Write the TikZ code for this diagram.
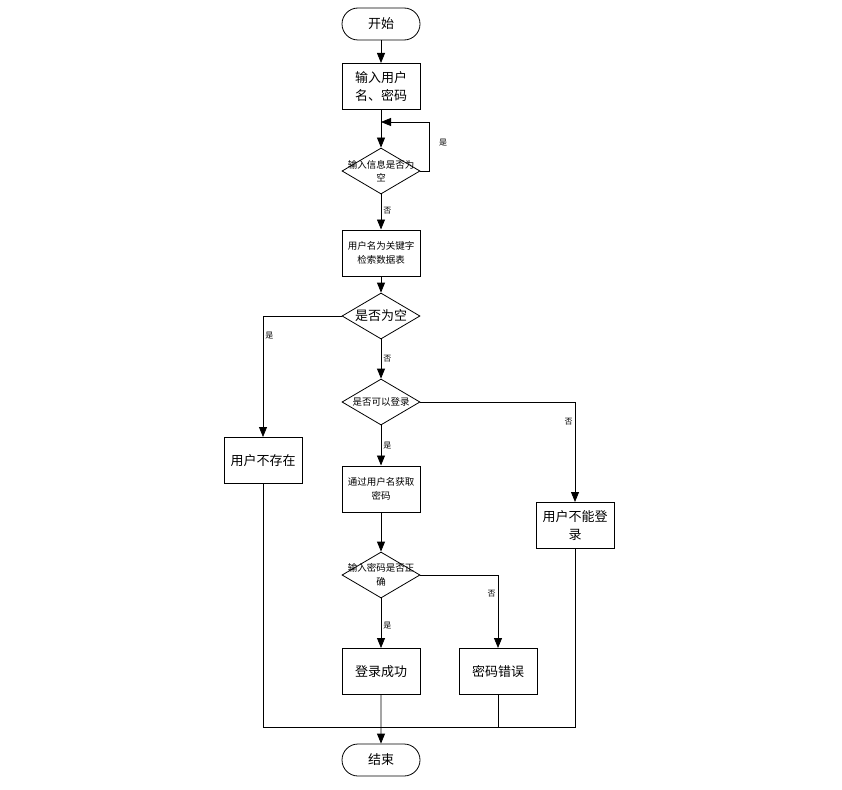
\documentclass[tikz,border=0pt]{standalone}
\usepackage{fontspec}
\setmainfont{Noto Sans CJK SC}
\usetikzlibrary{arrows.meta,shapes.geometric,shapes.misc}
\newcommand{\flowbig}{\fontsize{13}{18}\selectfont}
\newcommand{\flowsmall}{\fontsize{9.5}{13.5}\selectfont}
\newcommand{\flowlabel}{\fontsize{8}{10}\selectfont}

\begin{document}
\begin{tikzpicture}[x=1pt,y=-1pt]
    \tikzset{terminal/.style = {shape=rounded rectangle,draw,line width=0.8pt,minimum width=78pt,minimum height=32pt,inner sep=0pt,font=\flowbig}}
    \tikzset{process/.style = {shape=rectangle,draw,line width=1pt,minimum width=78pt,minimum height=46pt,inner sep=0pt,align=center}}
    \tikzset{decision/.style = {shape=diamond,draw,line width=0.8pt,minimum width=78pt,minimum height=46pt,inner sep=0pt}}
    \tikzset{edge/.style = {->,>={Triangle[length=10pt,width=8pt]},line width=0.8pt}}
    \tikzset{line/.style = {line width=0.8pt}}
    \tikzset{tag/.style = {font=\flowlabel,inner sep=2pt}}
    \useasboundingbox (0,0) rectangle (842,789);
    % vertices
    \node[terminal] (start) at (381,24) {开始};
    \node[process,font=\flowbig] (input) at (381,86.5) {输入用户\\名、密码};
    \node[decision,label={[align=center,font=\flowsmall]center:输入信息是否为\\空}] (empty) at (381,171) {};
    \node[process,font=\flowsmall] (query) at (381,253) {用户名为关键字\\检索数据表};
    \node[decision,label={[font=\flowbig]center:是否为空}] (found) at (381,316) {};
    \node[decision,label={[font=\flowsmall]center:是否可以登录}] (allowed) at (381,402) {};
    \node[process,font=\flowsmall] (fetch) at (381,489) {通过用户名获取\\密码};
    \node[decision,label={[align=center,font=\flowsmall]center:输入密码是否正\\确}] (check) at (381,575) {};
    \node[process,font=\flowbig] (success) at (381,671.5) {登录成功};
    \node[process,font=\flowbig] (wrong) at (498,671.5) {密码错误};
    \node[process,font=\flowbig] (nouser) at (263,460.5) {用户不存在};
    \node[process,font=\flowbig] (denied) at (575,525.5) {用户不能登\\录};
    \node[terminal] (stop) at (381,760) {结束};
    \coordinate (back) at (381,122);
    \coordinate (corner) at (429,122);
    \coordinate (merge) at (381,727);
    %edges
    \draw[edge] (start) -- (input);
    \draw[edge] (input) -- (empty);
    \draw[edge] (empty.east) -| (corner) -- (back);
    \node[tag] at (443,143) {是};
    \draw[edge] (empty) -- node[tag,right,pos=0.45] {否} (query);
    \draw[edge] (query) -- (found);
    \draw[edge] (found.west) -| node[tag,right,pos=0.58] {是} (nouser);
    \draw[edge] (found) -- node[tag,right] {否} (allowed);
    \draw[edge] (allowed.east) -| node[tag,left,pos=0.6] {否} (denied);
    \draw[edge] (allowed) -- node[tag,right] {是} (fetch);
    \draw[edge] (fetch) -- (check);
    \draw[edge] (check) -- node[tag,right,pos=0.55] {是} (success);
    \draw[edge] (check.east) -| node[tag,left,pos=0.63] {否} (wrong);
    \draw[line] (nouser) |- (merge);
    \draw[line] (denied) |- (merge);
    \draw[line] (wrong) |- (merge);
    \draw[edge] (success) -- (stop);
\end{tikzpicture}
\end{document}
